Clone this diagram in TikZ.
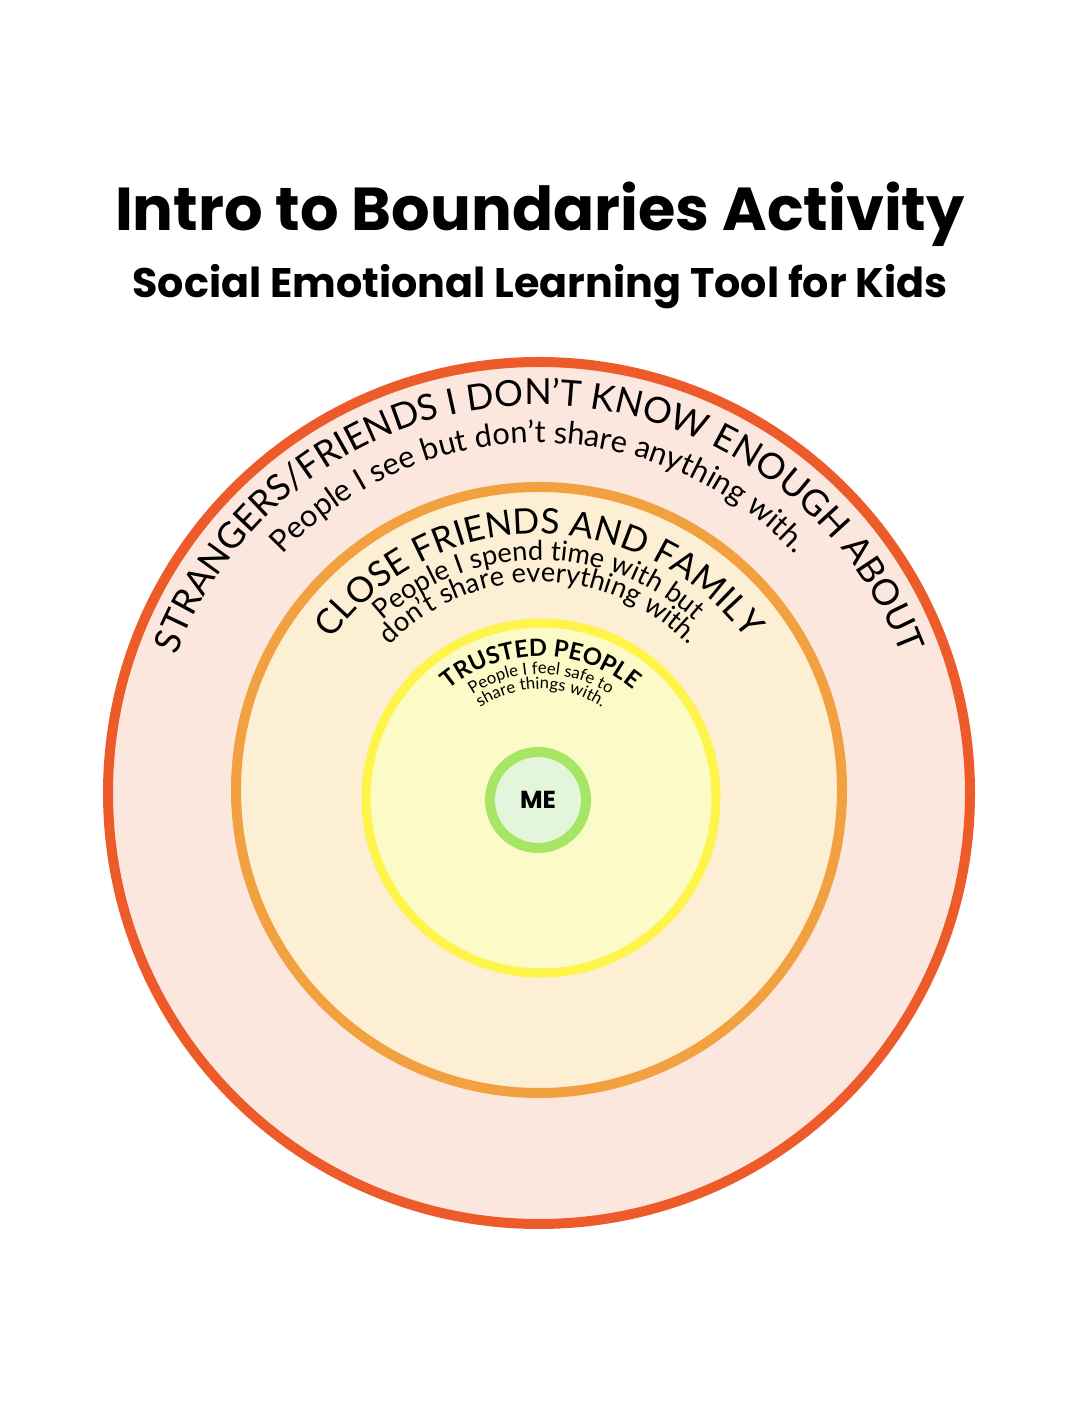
\documentclass[tikz,border=0pt]{standalone}
\usepackage{fontspec}
\setmainfont{Poppins}
\newfontfamily\arcfont{Lato}
\usetikzlibrary{decorations.text}
\definecolor{outerS}{HTML}{EE5B2B}
\definecolor{outerF}{HTML}{FBE7DE}
\definecolor{midS}{HTML}{F1A140}
\definecolor{midF}{HTML}{FDEFD3}
\definecolor{innS}{HTML}{FEF44A}
\definecolor{innF}{HTML}{FCFAC7}
\definecolor{meS}{HTML}{A6E664}
\definecolor{meF}{HTML}{E3F6DC}
\def\u{0.02cm}
\tikzset{arctext/.style={decorate,decoration={text along path,text align=center,text={#1}}}}
\begin{document}
\begin{tikzpicture}[x=\u,y=\u]
\useasboundingbox[fill=white] (0,0) rectangle (1080,1406);
\node[font=\fontsize{34.5}{38}\selectfont\bfseries] (title) at (540,1192) {Intro to Boundaries Activity};
\node[font=\fontsize{23.5}{26}\selectfont\bfseries] (sub) at (540,1119) {Social Emotional Learning Tool for Kids};
\draw[outerS,fill=outerF,line width=10*\u] (539,613) circle[radius=431*\u];
\draw[midS,fill=midF,line width=10*\u] (539,616) circle[radius=303*\u];
\draw[innS,fill=innF,line width=9*\u] (541,608) circle[radius=175*\u];
\draw[meS,fill=meF,line width=10*\u] (538,606) circle[radius=48*\u];
\node[font=\fontsize{14}{16}\selectfont\bfseries] (me) at (538,606) {ME};
\path[arctext={|\arcfont\fontsize{20.5}{20.5}\selectfont|STRANGERS/FRIENDS I DON’T KNOW ENOUGH ABOUT}] (539,613) ++(175:388*\u) arc[start angle=175,end angle=5,radius=388*\u];
\path[arctext={|\arcfont\fontsize{17.5}{17.5}\selectfont|People I see but don’t share anything with.}] (539,613) ++(170:350*\u) arc[start angle=170,end angle=10,radius=350*\u];
\path[arctext={|\arcfont\fontsize{20}{20}\selectfont|CLOSE FRIENDS AND FAMILY}] (539,616) ++(170:256*\u) arc[start angle=170,end angle=10,radius=256*\u];
\path[arctext={|\arcfont\fontsize{15.5}{15.5}\selectfont|People I spend time with but}] (539,616) ++(170:230*\u) arc[start angle=170,end angle=10,radius=230*\u];
\path[arctext={|\arcfont\fontsize{15.5}{15.5}\selectfont|don’t share everything with.}] (539,616) ++(170:208*\u) arc[start angle=170,end angle=10,radius=208*\u];
\path[arctext={|\arcfont\bfseries\fontsize{13.5}{13.5}\selectfont|TRUSTED PEOPLE}] (541,608) ++(170:142*\u) arc[start angle=170,end angle=10,radius=142*\u];
\path[arctext={|\arcfont\fontsize{9.5}{9.5}\selectfont|People I feel safe to}] (541,608) ++(170:124*\u) arc[start angle=170,end angle=10,radius=124*\u];
\path[arctext={|\arcfont\fontsize{9.5}{9.5}\selectfont|share things with.}] (541,608) ++(170:109*\u) arc[start angle=170,end angle=10,radius=109*\u];
\end{tikzpicture}
\end{document}
